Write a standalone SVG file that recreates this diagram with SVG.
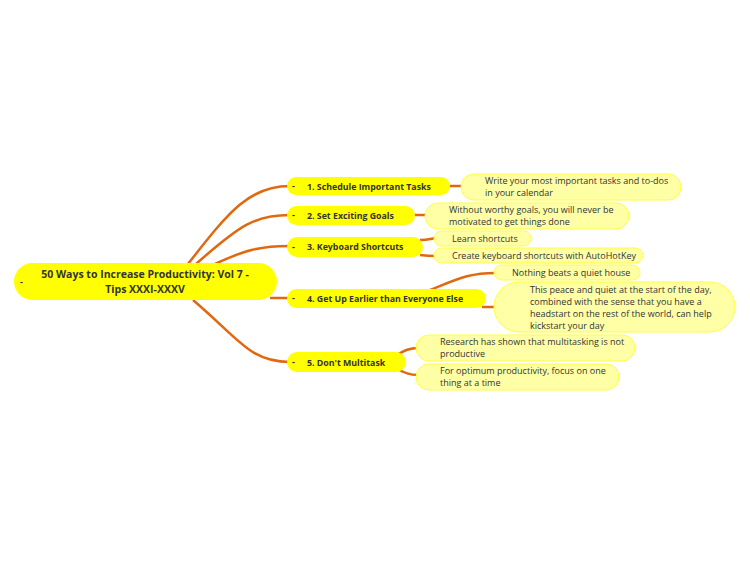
<svg xmlns="http://www.w3.org/2000/svg" width="750" height="563" viewBox="0 0 750 563">
<style>
.c{fill:none;stroke:#e0680f;stroke-width:2.5}
.b{fill:#ffff00}
.l{fill:#ffffa6;stroke:#ffff40;stroke-width:1}
text{font-family:"Open Sans","Liberation Sans",sans-serif;font-size:9px;fill:#333}
.bt{font-weight:bold;font-size:8.8px}
.rt{font-weight:bold;font-size:10.5px;text-anchor:middle}
.m{font-size:9px;font-weight:bold;fill:#333}
</style>
<rect width="750" height="563" fill="#fff"/>
<g id="connectors">
<path class="c" d="M188,264 C230,210 250,186 290,186"/>
<path class="c" d="M196,264 C240,225 255,215 290,215"/>
<path class="c" d="M215,264 C245,250 260,246 290,246"/>
<path class="c" d="M270,298 C280,298 282,298 290,298"/>
<path class="c" d="M193,300 C240,340 250,362 290,362"/>
<path class="c" d="M448,186 L462,186"/>
<path class="c" d="M413,215 L426,215"/>
<path class="c" d="M420,240 C428,240 430,239 436,238"/>
<path class="c" d="M420,255 C428,256 430,256 436,256"/>
<path class="c" d="M430,290 C460,278 470,273 496,273"/>
<path class="c" d="M482,307 L496,307"/>
<path class="c" d="M395,356 C405,350 410,348 418,348"/>
<path class="c" d="M395,368 C405,373 410,375 418,375"/>
</g>
<g id="root"><rect x="14" y="263" width="263" height="37" rx="18.5" class="b"/><text x="20" y="285" class="m">-</text><text x="145" y="278" class="rt">50 Ways to Increase Productivity: Vol 7 -</text><text x="145" y="293" class="rt">Tips XXXI-XXXV</text></g>
<g id="n1"><rect x="287" y="177" width="163" height="18" rx="9" class="b"/><text x="292" y="189" class="m">-</text><text x="307" y="190" class="bt">1. Schedule Important Tasks</text></g>
<g id="n2"><rect x="287" y="206" width="128" height="19" rx="9.5" class="b"/><text x="292" y="218" class="m">-</text><text x="307" y="219" class="bt">2. Set Exciting Goals</text></g>
<g id="n3"><rect x="287" y="237" width="136" height="20" rx="10" class="b"/><text x="292" y="250" class="m">-</text><text x="307" y="250" class="bt">3. Keyboard Shortcuts</text></g>
<g id="n4"><rect x="287" y="289" width="199" height="19" rx="9.5" class="b"/><text x="292" y="301" class="m">-</text><text x="307" y="302" class="bt">4. Get Up Earlier than Everyone Else</text></g>
<g id="n5"><rect x="287" y="352" width="119" height="20" rx="10" class="b"/><text x="292" y="365" class="m">-</text><text x="307" y="366" class="bt">5. Don't Multitask</text></g>
<g id="l1"><rect x="461" y="174" width="220" height="26" rx="13" class="l"/><text x="485" y="184">Write your most important tasks and to-dos</text><text x="485" y="196">in your calendar</text></g>
<g id="l2"><rect x="425" y="203" width="204" height="26" rx="13" class="l"/><text x="449" y="213">Without worthy goals, you will never be</text><text x="449" y="225">motivated to get things done</text></g>
<g id="l3a"><rect x="434" y="231" width="97" height="15" rx="7.5" class="l"/><text x="452" y="242">Learn shortcuts</text></g>
<g id="l3b"><rect x="434" y="248" width="209" height="15" rx="7.5" class="l"/><text x="452" y="259">Create keyboard shortcuts with AutoHotKey</text></g>
<g id="l4a"><rect x="494" y="265" width="146" height="15" rx="7.5" class="l"/><text x="512" y="276">Nothing beats a quiet house</text></g>
<g id="l4b"><rect x="494" y="282" width="241" height="50" rx="25" class="l"/><text x="530" y="293">This peace and quiet at the start of the day,</text><text x="530" y="305">combined with the sense that you have a</text><text x="530" y="317">headstart on the rest of the world, can help</text><text x="530" y="329">kickstart your day</text></g>
<g id="l5a"><rect x="416" y="335" width="219" height="26" rx="13" class="l"/><text x="440" y="345">Research has shown that multitasking is not</text><text x="440" y="357">productive</text></g>
<g id="l5b"><rect x="416" y="364" width="203" height="26" rx="13" class="l"/><text x="440" y="374">For optimum productivity, focus on one</text><text x="440" y="386">thing at a time</text></g>
</svg>
